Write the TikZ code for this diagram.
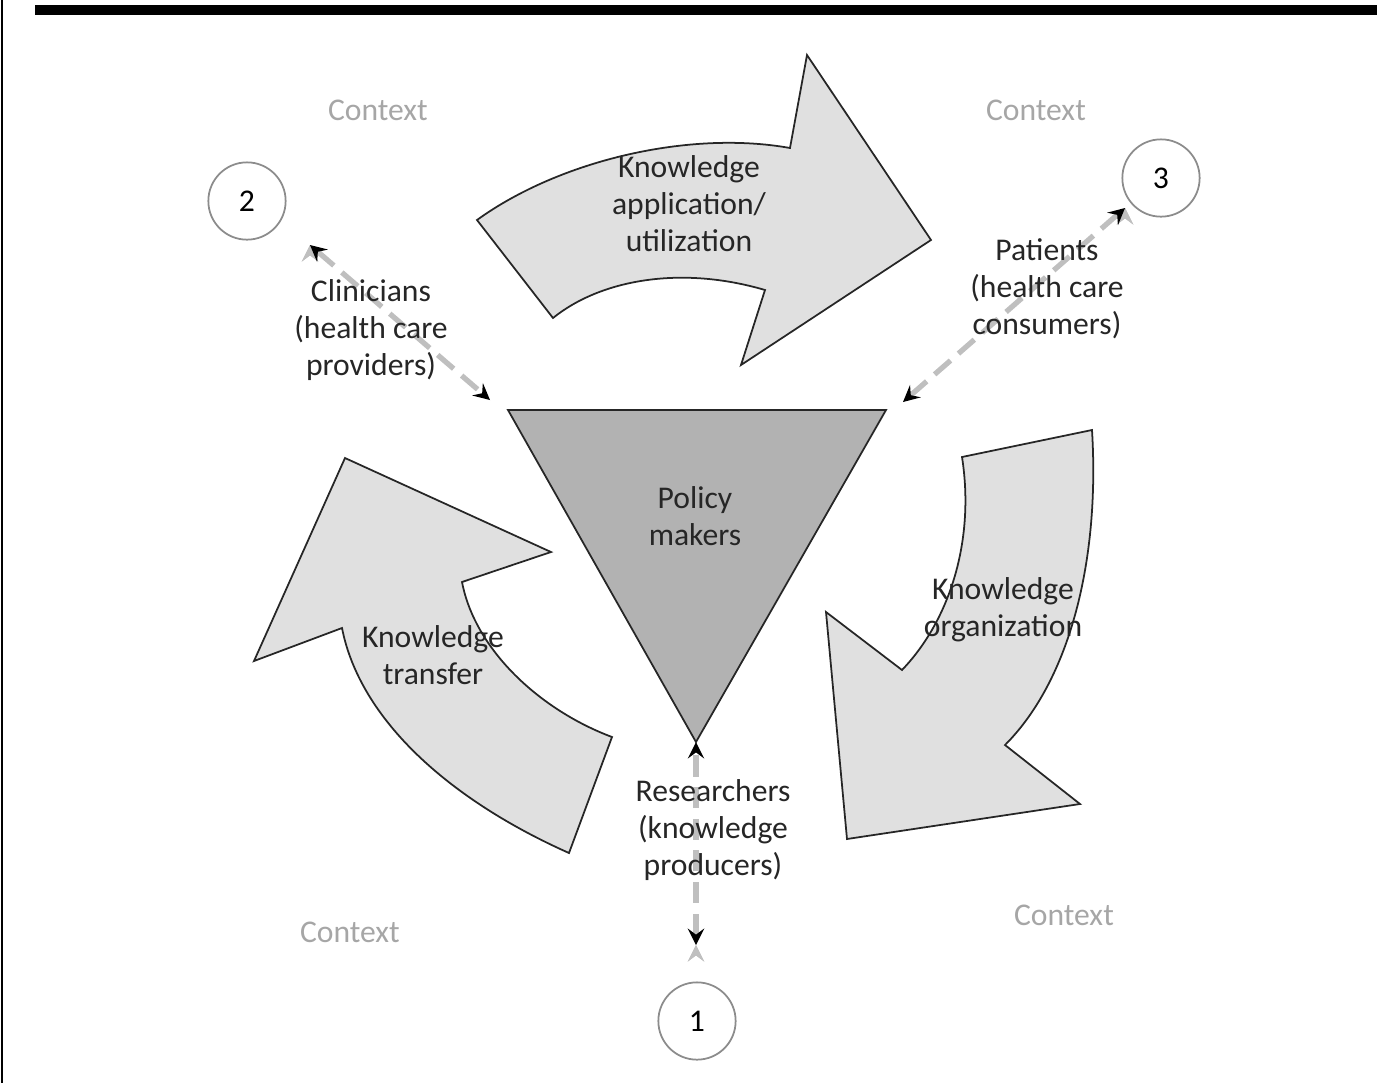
\documentclass[tikz,border=0pt]{standalone}
\usepackage{fontspec}
\setmainfont{Carlito}
\begin{document}
\begin{tikzpicture}[x=0.02cm,y=-0.02cm]
    \tikzstyle{big arrow}=[draw=black!85,line width=1pt,fill=black!12,line join=miter]
    \tikzstyle{label}=[align=center,font=\fontsize{18}{21}\selectfont,text=black!85]
    \tikzstyle{context}=[font=\fontsize{18}{21}\selectfont,text=black!35]
    \tikzstyle{actor}=[circle,draw=black!45,line width=1pt,minimum size=44pt,inner sep=0pt,font=\fontsize{18}{21}\selectfont]
    \tikzstyle{link}=[<->,>=stealth,draw=black!25,line width=3pt,dash pattern=on 12pt off 6pt]

    \useasboundingbox (0,0) rectangle (1377,1083);

    % Frame
    \draw[line width=6pt] (35,10) -- (1377,10);
    \draw[line width=1pt] (2,0) -- (2,1083);

    % Curved arrows
    \draw[big arrow] (477,220) .. controls (560,160) and (690,130) .. (790,148) -- (807,55) -- (931,240)
        -- (741,365) -- (765,290) .. controls (680,265) and (600,280) .. (553,318) -- cycle;
    \draw[big arrow] (962,457) -- (1092,430) .. controls (1100,560) and (1070,680) .. (1005,745)
        -- (1080,804) -- (847,839) -- (826,612) -- (902,670) .. controls (950,620) and (975,540) .. (962,457) -- cycle;
    \draw[big arrow] (612,737) -- (569,853) .. controls (450,800) and (360,720) .. (342,628) -- (254,661)
        -- (345,458) -- (551,552) -- (462,582) .. controls (475,650) and (540,710) .. (612,737) -- cycle;

    % Policy makers
    \draw[big arrow,fill=black!30] (508,410) -- (886,410) -- (696,742) -- cycle;
    \node[label] (policy) at (695,516) {Policy\\makers};
    \coordinate (tip) at (696,742);

    % Actors
    \node[actor] (A-1) at (697,1021) {1};
    \node[actor] (A-2) at (247,201) {2};
    \node[actor] (A-3) at (1161,178) {3};
    \coordinate (end-1) at (696,945);
    \coordinate (end-2) at (310,245);
    \coordinate (end-3) at (1125,208);
    \coordinate (tri-2) at (490,400);
    \coordinate (tri-3) at (903,402);

    \path[link] (end-2) edge (tri-2);
    \path[link] (end-3) edge (tri-3);
    \path[link] (end-1) edge (tip);

    % Labels
    \node[label] (apply) at (689,204) {Knowledge\\application/\\utilization};
    \node[label] (org) at (1003,610) {Knowledge\\organization};
    \node[label] (trans) at (433,655) {Knowledge\\transfer};
    \node[label] (clin) at (371,330) {Clinicians\\(health care\\providers)};
    \node[label] (pat) at (1047,289) {Patients\\(health care\\consumers)};
    \node[label] (res) at (713,830) {Researchers\\(knowledge\\producers)};

    % Context
    \node[context] (c-1) at (378,110) {Context};
    \node[context] (c-2) at (1036,110) {Context};
    \node[context] (c-3) at (350,932) {Context};
    \node[context] (c-4) at (1064,915) {Context};
\end{tikzpicture}
\end{document}
